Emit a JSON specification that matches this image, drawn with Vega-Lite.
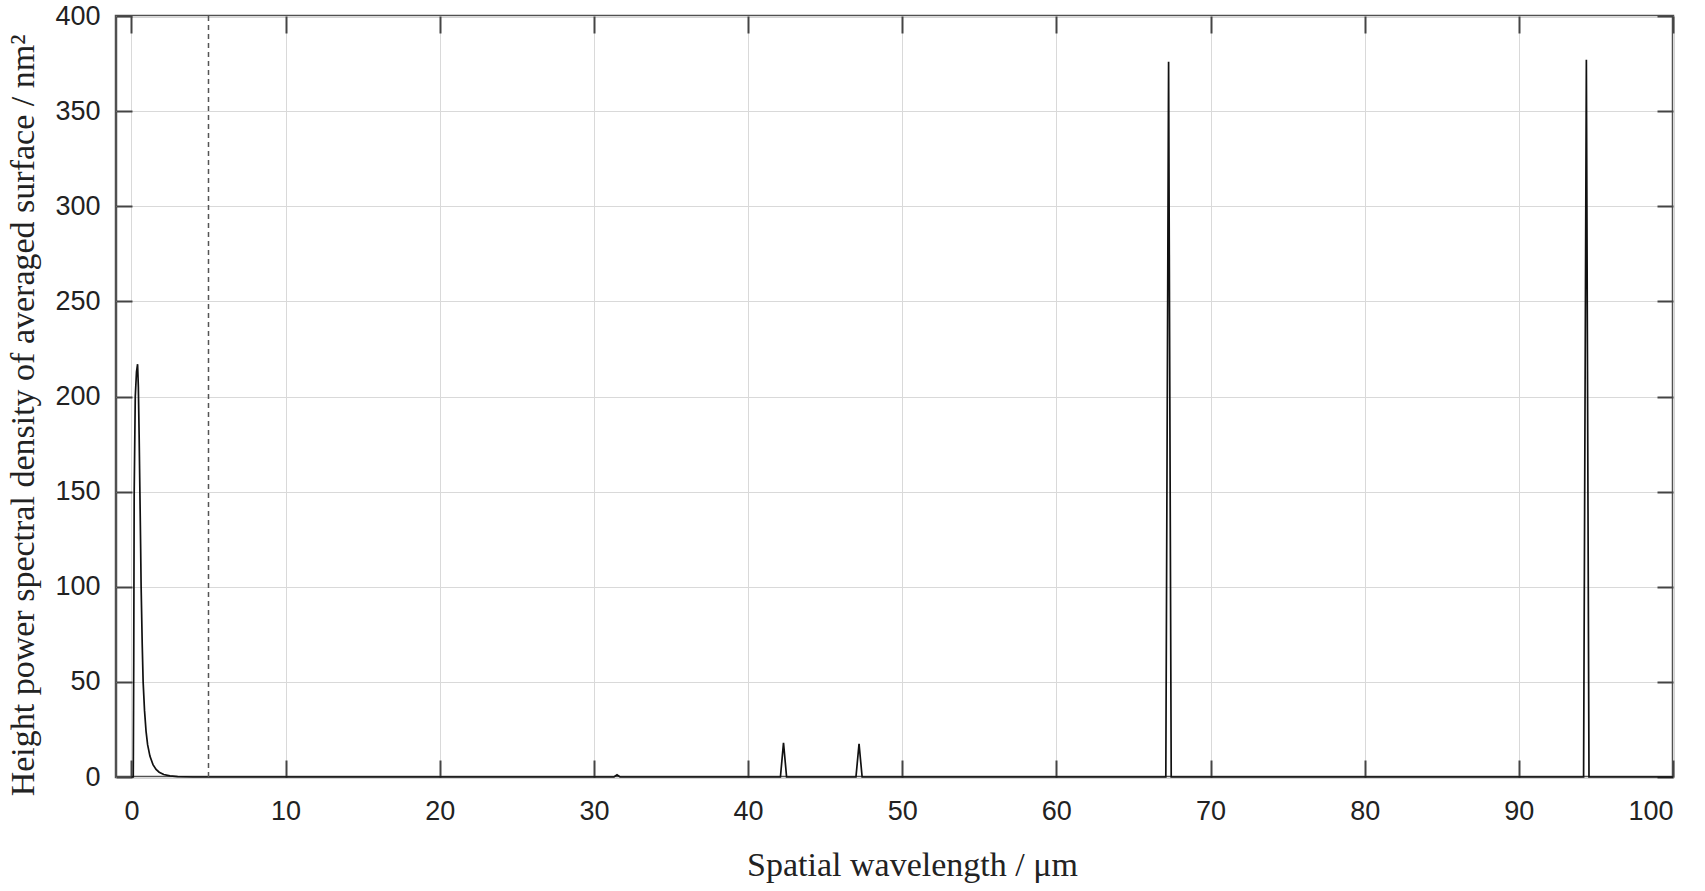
{
  "$schema": "https://vega.github.io/schema/vega-lite/v6.json",
  "width": 1557,
  "height": 761,
  "autosize": "none",
  "padding": {"left": 116, "top": 16, "right": 32, "bottom": 114},
  "background": "white",
  "config": {
    "view": {"stroke": "#505050", "strokeWidth": 2.5},
    "axis": {"domain": false, "titleFontWeight": "normal"}
  },
  "datasets": {
    "psd": [
      {"wavelength": 0.0, "psd": 0},
      {"wavelength": 0.12, "psd": 0},
      {"wavelength": 0.15, "psd": 60},
      {"wavelength": 0.18, "psd": 150},
      {"wavelength": 0.25, "psd": 200},
      {"wavelength": 0.33, "psd": 213},
      {"wavelength": 0.4, "psd": 217},
      {"wavelength": 0.45, "psd": 205},
      {"wavelength": 0.5, "psd": 180},
      {"wavelength": 0.55, "psd": 150},
      {"wavelength": 0.6, "psd": 120},
      {"wavelength": 0.63, "psd": 100},
      {"wavelength": 0.7, "psd": 70},
      {"wavelength": 0.76, "psd": 50},
      {"wavelength": 0.85, "psd": 35},
      {"wavelength": 0.95, "psd": 24},
      {"wavelength": 1.05, "psd": 17},
      {"wavelength": 1.2, "psd": 11},
      {"wavelength": 1.4, "psd": 6.5},
      {"wavelength": 1.6, "psd": 4},
      {"wavelength": 1.8, "psd": 2.5},
      {"wavelength": 2.1, "psd": 1.3},
      {"wavelength": 2.5, "psd": 0.6},
      {"wavelength": 3.0, "psd": 0.2},
      {"wavelength": 4.0, "psd": 0},
      {"wavelength": 31.3, "psd": 0},
      {"wavelength": 31.5, "psd": 1.2},
      {"wavelength": 31.7, "psd": 0},
      {"wavelength": 42.1, "psd": 0},
      {"wavelength": 42.3, "psd": 18},
      {"wavelength": 42.5, "psd": 0},
      {"wavelength": 47.0, "psd": 0},
      {"wavelength": 47.2, "psd": 17.5},
      {"wavelength": 47.4, "psd": 0},
      {"wavelength": 67.1, "psd": 0},
      {"wavelength": 67.28, "psd": 376},
      {"wavelength": 67.45, "psd": 0},
      {"wavelength": 94.2, "psd": 0},
      {"wavelength": 94.38, "psd": 377},
      {"wavelength": 94.55, "psd": 0},
      {"wavelength": 100, "psd": 0}
    ],
    "cutoff": [{"wavelength": 5}]
  },
  "layer": [
    {
      "data": {"name": "psd"},
      "mark": {"type": "line", "color": "#111111", "strokeWidth": 1.7},
      "encoding": {
        "x": {
          "field": "wavelength",
          "type": "quantitative",
          "scale": {"domain": [-1, 100], "nice": false, "zero": false},
          "axis": {
            "orient": "bottom",
            "values": [0, 10, 20, 30, 40, 50, 60, 70, 80, 90, 100],
            "ticks": false,
            "grid": true,
            "gridColor": "#d9d9d9",
            "gridWidth": 1,
            "labelFont": "Liberation Sans",
            "labelFontSize": 27,
            "labelColor": "#222222",
            "labelPadding": 21,
            "title": "Spatial wavelength / μm",
            "titleFont": "Liberation Serif",
            "titleFontSize": 34,
            "titleColor": "#222222",
            "titleX": 796,
            "titleY": 98,
            "titleAlign": "center",
            "titleBaseline": "alphabetic"
          }
        },
        "y": {
          "field": "psd",
          "type": "quantitative",
          "scale": {"domain": [0, 400], "nice": false},
          "axis": {
            "orient": "left",
            "values": [0, 50, 100, 150, 200, 250, 300, 350, 400],
            "ticks": false,
            "grid": true,
            "gridColor": "#d9d9d9",
            "gridWidth": 1,
            "labelFont": "Liberation Sans",
            "labelFontSize": 27,
            "labelColor": "#222222",
            "labelPadding": 16,
            "title": "Height power spectral density of averaged surface / nm²",
            "titleFont": "Liberation Serif",
            "titleFontSize": 34,
            "titleColor": "#222222",
            "titleAngle": -90,
            "titleX": -83,
            "titleY": 399,
            "titleAlign": "center",
            "titleBaseline": "alphabetic"
          }
        }
      }
    },
    {
      "data": {"name": "cutoff"},
      "mark": {"type": "rule", "color": "#555555", "strokeWidth": 1.5, "strokeDash": [5, 4]},
      "encoding": {
        "x": {
          "field": "wavelength",
          "type": "quantitative",
          "axis": {
            "orient": "bottom",
            "offset": -17,
            "values": [0, 10, 20, 30, 40, 50, 60, 70, 80, 90, 100],
            "tickSize": 17,
            "tickWidth": 2,
            "tickColor": "#444444",
            "labels": false,
            "grid": false,
            "title": null
          }
        },
        "y": {
          "datum": 0,
          "type": "quantitative",
          "axis": {
            "orient": "left",
            "offset": -16,
            "values": [0, 50, 100, 150, 200, 250, 300, 350, 400],
            "tickSize": 16,
            "tickWidth": 2,
            "tickColor": "#444444",
            "labels": false,
            "grid": false,
            "title": null
          }
        },
        "y2": {"datum": 400}
      }
    },
    {
      "data": {"name": "cutoff"},
      "mark": {"type": "rule", "strokeOpacity": 0},
      "encoding": {
        "x": {
          "field": "wavelength",
          "type": "quantitative",
          "axis": {
            "orient": "top",
            "offset": -17,
            "values": [0, 10, 20, 30, 40, 50, 60, 70, 80, 90, 100],
            "tickSize": 17,
            "tickWidth": 2,
            "tickColor": "#444444",
            "labels": false,
            "grid": false,
            "title": null
          }
        },
        "y": {
          "datum": 0,
          "type": "quantitative",
          "axis": {
            "orient": "right",
            "offset": -16,
            "values": [0, 50, 100, 150, 200, 250, 300, 350, 400],
            "tickSize": 16,
            "tickWidth": 2,
            "tickColor": "#444444",
            "labels": false,
            "grid": false,
            "title": null
          }
        },
        "y2": {"datum": 400}
      }
    }
  ],
  "resolve": {"axis": {"x": "independent", "y": "independent"}}
}
